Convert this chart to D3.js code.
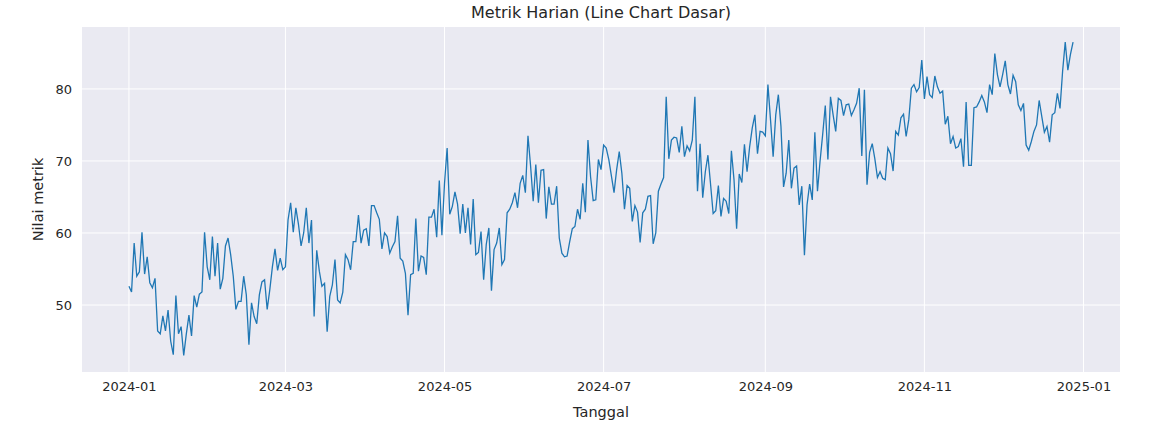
<!DOCTYPE html>
<html><head><meta charset="utf-8">
<script src="https://cdn.jsdelivr.net/npm/d3@7"></script>
<style>body{margin:0;background:#fff;font-family:"DejaVu Sans",sans-serif;}</style>
</head><body><div id="chart"></div>
<script>
// values, one per day from 2024-01-01
var part1 = [52.6,51.8,58.6,54,54.6,60.1,54.3,56.7,53.1,52.4,53.7,46.4,46,48.5,46.4,49.3,45,43.1,51.3,46,47,43,46,48.6,45.7,51.3,49.7,51.5,51.8,60.1,55.3,53.5,59.5,54,58.6,52.2,53.7,58.2,59.3,57,54,49.4,50.5,50.5,54,51.4,44.5,50.3,48.4,47.4,51.4,53.2,53.5,49.4,52.1,55.3,57.8,54.8,56.5,54.9,55.3,61.8,64.2,60.1,63.5,61.2,58.2,60,63.5,58.6,61.8,48.4,57.6,54.7,52.6,53,46.3,51.2,52.8,56.3,50.7,50.3,51.8,57,56.3,54.9,58.8,58.8,62.5,58.6,60.4];
var part2 = [60.6,58.2,63.8,63.8,62.8,61.9,57.8,60,59.5,57.2,58.1,58.8,62.4,56.5,56.1,54.4,48.6,54.2,54.4,62,54.7,56.8,56.6,54.2,62.2,62.2,63.3,59.4,67.3,59.7,66.9,71.8,62.6,63.7,65.7,64,59.9,64,60,63.5,58.4,64.7,57,57.3,60.2,53.5,58.4,60.7,52,57.7,58.6,60.7,55.6,56.3,62.8,63.3,64.2,65.6,63.5,66.9,68,65.6,73.5,69.3,64.4,69.5,64.2,68.7,68.8,62,66.4,64,64,66.5,59.3,57.2,56.7,56.8,58.8,60.6,60.9,63.3,61.9,66.9,62.9,72.9,67.8,64.5,64.6,70.2,68.8,72.2];
var part3 = [71.8,70.2,67.9,65.6,68.8,71.3,68.3,63.3,66.6,66.2,61.6,63.8,62.9,58.7,62.8,63.3,65.1,65.2,58.5,60,65.8,66.8,67.7,78.9,70.3,72.9,73.3,73.2,71.2,74.8,70.6,72.1,71.4,72.9,78.9,65.8,72.4,64.9,68.5,70.8,66.8,62.7,63.1,66.6,62.3,64.8,64.4,62.7,71.4,67.4,60.6,68.2,67,72.3,68.5,72,74.6,76.4,71,74.1,74,73.5,80.6,75.7,70.6,76.4,79.2,74.8,66.4,68.3,72.9,66.2,69,69.3,63.9,66.5,56.9,63.9,66.8,64.6,74,65.8,70,73.7,77.7,70.2,78.9,76.4,74.1,78.7,78.4,76.3,77.8];
var part4 = [77.9,76.3,77.1,78,80.1,70.7,79.9,66.7,71.2,72.4,70.3,67.7,68.5,67.6,67.4,71.8,71,68.6,74.1,73.6,76,76.5,73.4,75.7,80.1,80.6,79.6,80.2,84,78.6,81.7,79.2,78.8,81.8,80.3,79.4,79.7,75.1,76.2,72.4,73.4,71.8,72,73.1,69.2,78.2,69.4,69.4,77.4,77.5,78.2,79.1,78.2,76.7,80.6,79.2,84.9,82,80.3,82,83.9,80.6,79.3,81.9,81,77.8,77,78,72.2,71.5,72.7,74.1,75,78.4,76.2,74,74.8,72.6,76.4,76.7,79.4,77.3,82.5,86.5,82.6,84.8,86.5];
var values = part1.concat(part2, part3, part4);
var yTicks = [50, 60, 70, 80];
var xTickDates = ["2024-01-01","2024-03-01","2024-05-01","2024-07-01","2024-09-01","2024-11-01","2025-01-01"];

var start = new Date(2024, 0, 1);
var data = values.map(function(v, i){
  return {date: d3.timeDay.offset(start, i), value: v};
});

var W = 1157, H = 430;
var margin = {top:27, right:37, bottom:58, left:82};
var width = W - margin.left - margin.right;
var height = H - margin.top - margin.bottom;

var svg = d3.select("#chart").append("svg")
  .attr("width", W).attr("height", H);
var g = svg.append("g")
  .attr("transform", "translate(" + margin.left + "," + margin.top + ")");

var x = d3.scaleTime()
  .domain([d3.timeDay.offset(start, -17.6), d3.timeDay.offset(start, 380)])
  .range([0, width]);
var y = d3.scaleLinear().domain([40.7, 88.6]).range([height, 0]);

g.append("rect").attr("width", width).attr("height", height).attr("fill", "#eaeaf2");

var parse = d3.timeParse("%Y-%m-%d");
var xt = xTickDates.map(parse);
g.selectAll(".vg").data(xt).enter().append("line")
  .attr("x1", function(d){return x(d);}).attr("x2", function(d){return x(d);})
  .attr("y1", 0).attr("y2", height)
  .attr("stroke", "#fff").attr("stroke-width", 1);
g.selectAll(".hg").data(yTicks).enter().append("line")
  .attr("x1", 0).attr("x2", width)
  .attr("y1", function(d){return y(d);}).attr("y2", function(d){return y(d);})
  .attr("stroke", "#fff").attr("stroke-width", 1);

var line = d3.line()
  .x(function(d){return x(d.date);})
  .y(function(d){return y(d.value);});
g.append("path").datum(data)
  .attr("d", line)
  .attr("fill", "none")
  .attr("stroke", "#1f77b4")
  .attr("stroke-width", 1.3);

var xAxis = g.append("g")
  .attr("transform", "translate(0," + height + ")")
  .call(d3.axisBottom(x).tickValues(xt).tickFormat(d3.timeFormat("%Y-%m")).tickSize(0).tickPadding(10));
var yAxis = g.append("g")
  .call(d3.axisLeft(y).tickValues(yTicks).tickSize(0).tickPadding(10));
[xAxis, yAxis].forEach(function(a){
  a.select(".domain").remove();
  a.selectAll("text").attr("font-size", 13).attr("fill", "#262626")
    .attr("font-family", "DejaVu Sans, sans-serif");
});

svg.append("text").attr("x", margin.left + width/2).attr("y", 18)
  .attr("text-anchor", "middle").attr("font-size", 16).attr("fill", "#262626")
  .text("Metrik Harian (Line Chart Dasar)");
svg.append("text").attr("x", margin.left + width/2).attr("y", 417)
  .attr("text-anchor", "middle").attr("font-size", 14.5).attr("fill", "#262626")
  .text("Tanggal");
svg.append("text")
  .attr("transform", "translate(43," + (margin.top + height/2) + ") rotate(-90)")
  .attr("text-anchor", "middle").attr("font-size", 14.5).attr("fill", "#262626")
  .text("Nilai metrik");
</script>
</body></html>
